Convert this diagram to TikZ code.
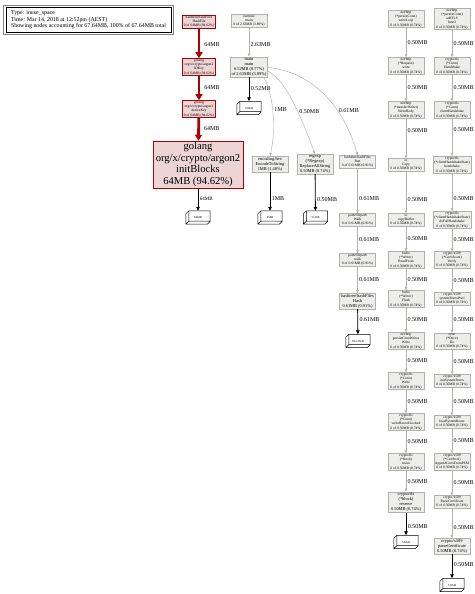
\documentclass[tikz,border=0pt]{standalone}
\usepackage{fontspec}
\setmainfont{Liberation Serif}
\usetikzlibrary{arrows.meta}
\definecolor{gfill}{HTML}{EDEDEC}
\definecolor{gborder}{HTML}{B2B1AE}
\definecolor{hotred}{HTML}{B20000}
\definecolor{hotfill}{HTML}{EDD5D5}
\definecolor{gedgec}{HTML}{B2B1AE}
\tikzset{
  gnode/.style={draw=gborder, fill=gfill, line width=0.4pt, align=center, inner xsep=1.2pt, inner ysep=0.8pt, minimum width=36pt, font=\fontsize{3.6}{4.1}\selectfont},
  gflat/.style={gnode, font=\fontsize{4.4}{5}\selectfont},
  hnode/.style={gnode, draw=hotred, fill=hotfill, minimum width=33pt},
  bignode/.style={draw=hotred, fill=hotfill, line width=0.5pt, align=center, minimum width=90pt, minimum height=47pt, inner sep=1pt, font=\fontsize{10.6}{11.6}\selectfont},
  cubenode/.style={minimum width=24pt, minimum height=13pt, inner sep=0pt, font=\fontsize{3}{3.5}\selectfont},
  cubeline/.style={draw=black, line width=0.5pt},
  gedge/.style={draw=gedgec, line width=0.45pt, -{Triangle[width=2.6pt,length=3pt]}},
  hedge/.style={draw=hotred, line width=2.8pt, -{Triangle[width=7pt,length=6pt]}},
  kedge/.style={draw=black, line width=0.8pt, -{Triangle[width=3.5pt,length=4pt]}},
  elabel/.style={font=\fontsize{6}{7}\selectfont, anchor=west, inner sep=0pt, xshift=1.5pt},
  hlabel/.style={elabel, xshift=2.5pt},
  slabel/.style={elabel, font=\fontsize{5}{6}\selectfont},
  legendbox/.style={draw=black, line width=0.4pt, align=left, minimum width=165pt, minimum height=22pt, inner xsep=5pt, font=\fontsize{5.9}{6.6}\selectfont},
}
\newcommand\mycube[4]{%
  \node[cubenode] (#1) at (#2,#3) {#4};
  \draw[cubeline] ([yshift=-3pt]#1.north west) -- ([xshift=3pt]#1.north west) -- (#1.north east) -- ([yshift=3pt]#1.south east) -- ([xshift=-3pt]#1.south east) -- (#1.south west) -- cycle
    ([xshift=3pt]#1.north west) -- ([xshift=3pt,yshift=3pt]#1.south west) -- ([yshift=3pt]#1.south east)
    ([xshift=3pt,yshift=3pt]#1.south west) -- (#1.south west);
}
\begin{document}
\begin{tikzpicture}[x=1pt,y=-1pt]
\fill[white] (0,0) rectangle (474,594);
\useasboundingbox (0,0) rectangle (474,594);

% legend
\node[legendbox] (leg) at (88.5,20) {Type: inuse\_space\\Time: Mar 14, 2018 at 12:52pm (AEST)\\Showing nodes accounting for 67.64MB, 100\% of 67.64MB total};
\draw[gray, line width=1pt] ([xshift=-2pt,yshift=2pt]leg.north west) rectangle ([xshift=2pt,yshift=-2pt]leg.south east);

% hot chain
\node[hnode] (hf) at (199,22) {hashtree/hashFiles\\HashFile\\0 of 64MB (94.62\%)};
\node[hnode] (idkey) at (199,67) {golang\\org/x/crypto/argon2\\IDKey\\0 of 64MB (94.62\%)};
\node[hnode] (derive) at (199,109) {golang\\org/x/crypto/argon2\\deriveKey\\0 of 64MB (94.62\%)};
\node[bignode] (init) at (198,164.5) {golang\\org/x/crypto/argon2\\initBlocks\\64MB (94.62\%)};
\mycube{c1}{198}{217.5}{64MB}

\draw[hedge] (hf) -- (idkey) node[hlabel,pos=0.55]{64MB};
\draw[hedge] (idkey) -- (derive) node[hlabel,pos=0.48]{64MB};
\draw[hedge] (derive) -- (init) node[hlabel,pos=0.45]{64MB};
\draw[kedge] (init) -- (c1) node[slabel,pos=0.48]{64MB};

% main column
\node[gnode] (rtmain) at (249,21) {runtime\\main\\0 of 2.63MB (3.89\%)};
\node[gflat] (mmain) at (249,67) {main\\main\\0.52MB (0.77\%)\\of 2.63MB (3.89\%)};
\mycube{c2}{249}{108}{528kB}
\node[gflat] (enc) at (270,164) {encoding/hex\\EncodeToString\\1MB (1.48\%)};
\mycube{c3}{270}{217.5}{1MB}
\node[gflat] (re) at (315,164) {regexp\\(*Regexp)\\ReplaceAllString\\0.50MB (0.74\%)};
\mycube{c4}{315.5}{217.5}{512kB}
\node[gnode] (run) at (357.5,162) {hashtree/hashFiles\\Run\\0 of 0.61MB (0.91\%)};
\node[gnode] (walkA) at (357.5,220) {path/filepath\\Walk\\0 of 0.61MB (0.91\%)};
\node[gnode] (walkB) at (357.5,260) {path/filepath\\walk\\0 of 0.61MB (0.91\%)};
\node[gflat] (hash) at (357.5,301) {hashtree/hashFiles\\Hash\\0.61MB (0.91\%)};
\mycube{c5}{358}{341}{624.47kB}

\draw[gedge] (rtmain) -- (mmain) node[elabel,pos=0.6]{2.63MB};
\draw[kedge] (mmain) -- (c2) node[elabel,pos=0.48]{0.52MB};
\draw[gedge] ([xshift=-4pt]mmain.south east) .. controls (274,95) and (276,130) .. (enc.north) node[elabel,pos=0.45]{1MB};
\draw[gedge] ([yshift=-4pt]mmain.east) .. controls (288,82) and (302,120) .. (re.north) node[elabel,pos=0.58]{0.50MB};
\draw[gedge] ([yshift=-0.5pt]mmain.east) .. controls (315,72) and (345,110) .. (run.north) node[elabel,pos=0.64]{0.61MB};
\draw[kedge] (enc) -- (c3) node[elabel,pos=0.68]{1MB};
\draw[kedge] (re) -- (c4) node[elabel,pos=0.68]{0.50MB};
\draw[gedge] (run) -- (walkA) node[elabel,pos=0.66]{0.61MB};
\draw[gedge] (walkA) -- (walkB) node[elabel,pos=0.5]{0.61MB};
\draw[gedge] (walkB) -- (hash) node[elabel,pos=0.5]{0.61MB};
\draw[kedge] (hash) -- (c5) node[elabel,pos=0.4]{0.61MB};

% right column 1
\node[gnode] (a1) at (406,19) {net/http\\(*persistConn)\\writeLoop\\0 of 0.50MB (0.74\%)};
\node[gnode] (a2) at (406,66) {net/http\\(*Request)\\write\\0 of 0.50MB (0.74\%)};
\node[gnode] (a3) at (406,110) {net/http\\(*transferWriter)\\WriteBody\\0 of 0.50MB (0.74\%)};
\node[gnode] (a4) at (406,165) {io\\Copy\\0 of 0.50MB (0.74\%)};
\node[gnode] (a5) at (406,220) {io\\copyBuffer\\0 of 0.50MB (0.74\%)};
\node[gnode] (a6) at (406,260) {bufio\\(*Writer)\\ReadFrom\\0 of 0.50MB (0.74\%)};
\node[gnode] (a7) at (406,299) {bufio\\(*Writer)\\Flush\\0 of 0.50MB (0.74\%)};
\node[gnode] (a8) at (406,341) {net/http\\persistConnWriter\\Write\\0 of 0.50MB (0.74\%)};
\node[gnode] (a9) at (406,381) {crypto/tls\\(*Conn)\\Write\\0 of 0.50MB (0.74\%)};
\node[gnode] (a10) at (406,422) {crypto/tls\\(*Conn)\\writeRecordLocked\\0 of 0.50MB (0.74\%)};
\node[gnode] (a11) at (406,462) {crypto/tls\\(*block)\\resize\\0 of 0.50MB (0.74\%)};
\node[gflat] (a12) at (406,502) {crypto/tls\\(*block)\\reserve\\0.50MB (0.74\%)};
\mycube{ca}{406}{542}{512kB}

\draw[gedge] (a1) -- (a2) node[elabel,pos=0.5]{0.50MB};
\draw[gedge] (a2) -- (a3) node[elabel,pos=0.5]{0.50MB};
\draw[gedge] (a3) -- (a4) node[elabel,pos=0.3]{0.50MB};
\draw[gedge] (a4) -- (a5) node[elabel,pos=0.67]{0.50MB};
\draw[gedge] (a5) -- (a6) node[elabel,pos=0.5]{0.50MB};
\draw[gedge] (a6) -- (a7) node[elabel,pos=0.5]{0.50MB};
\draw[gedge] (a7) -- (a8) node[elabel,pos=0.5]{0.50MB};
\draw[gedge] (a8) -- (a9) node[elabel,pos=0.5]{0.50MB};
\draw[gedge] (a9) -- (a10) node[elabel,pos=0.5]{0.50MB};
\draw[gedge] (a10) -- (a11) node[elabel,pos=0.5]{0.50MB};
\draw[gedge] (a11) -- (a12) node[elabel,pos=0.5]{0.50MB};
\draw[kedge] (a12) -- (ca) node[elabel,pos=0.6]{0.50MB};

% right column 2
\node[gnode] (b1) at (452,19) {net/http\\(*persistConn)\\addTLS\\func2\\0 of 0.50MB (0.74\%)};
\node[gnode] (b2) at (452,66) {crypto/tls\\(*Conn)\\Handshake\\0 of 0.50MB (0.74\%)};
\node[gnode] (b3) at (452,110) {crypto/tls\\(*Conn)\\clientHandshake\\0 of 0.50MB (0.74\%)};
\node[gnode] (b4) at (452,165) {crypto/tls\\(*clientHandshakeState)\\handshake\\0 of 0.50MB (0.74\%)};
\node[gnode] (b5) at (452,220) {crypto/tls\\(*clientHandshakeState)\\doFullHandshake\\0 of 0.50MB (0.74\%)};
\node[gnode] (b6) at (452,260) {crypto/x509\\(*Certificate)\\Verify\\0 of 0.50MB (0.74\%)};
\node[gnode] (b7) at (452,299) {crypto/x509\\systemRootsPool\\0 of 0.50MB (0.74\%)};
\node[gnode] (b8) at (452,341) {sync\\(*Once)\\Do\\0 of 0.50MB (0.74\%)};
\node[gnode] (b9) at (452,381) {crypto/x509\\initSystemRoots\\0 of 0.50MB (0.74\%)};
\node[gnode] (b10) at (452,422) {crypto/x509\\loadSystemRoots\\0 of 0.50MB (0.74\%)};
\node[gnode] (b11) at (452,462) {crypto/x509\\(*CertPool)\\AppendCertsFromPEM\\0 of 0.50MB (0.74\%)};
\node[gnode] (b12) at (452,502) {crypto/x509\\ParseCertificate\\0 of 0.50MB (0.74\%)};
\node[gflat] (b13) at (452,546) {crypto/x509\\parseCertificate\\0.50MB (0.74\%)};
\mycube{cb}{452}{585}{512kB}

\draw[gedge] (b1) -- (b2) node[elabel,pos=0.5]{0.50MB};
\draw[gedge] (b2) -- (b3) node[elabel,pos=0.5]{0.50MB};
\draw[gedge] (b3) -- (b4) node[elabel,pos=0.3]{0.50MB};
\draw[gedge] (b4) -- (b5) node[elabel,pos=0.67]{0.50MB};
\draw[gedge] (b5) -- (b6) node[elabel,pos=0.5]{0.50MB};
\draw[gedge] (b6) -- (b7) node[elabel,pos=0.5]{0.50MB};
\draw[gedge] (b7) -- (b8) node[elabel,pos=0.5]{0.50MB};
\draw[gedge] (b8) -- (b9) node[elabel,pos=0.5]{0.50MB};
\draw[gedge] (b9) -- (b10) node[elabel,pos=0.5]{0.50MB};
\draw[gedge] (b10) -- (b11) node[elabel,pos=0.5]{0.50MB};
\draw[gedge] (b11) -- (b12) node[elabel,pos=0.5]{0.50MB};
\draw[gedge] (b12) -- (b13) node[elabel,pos=0.65]{0.50MB};
\draw[kedge] (b13) -- (cb) node[elabel,pos=0.45]{0.50MB};
\end{tikzpicture}
\end{document}
